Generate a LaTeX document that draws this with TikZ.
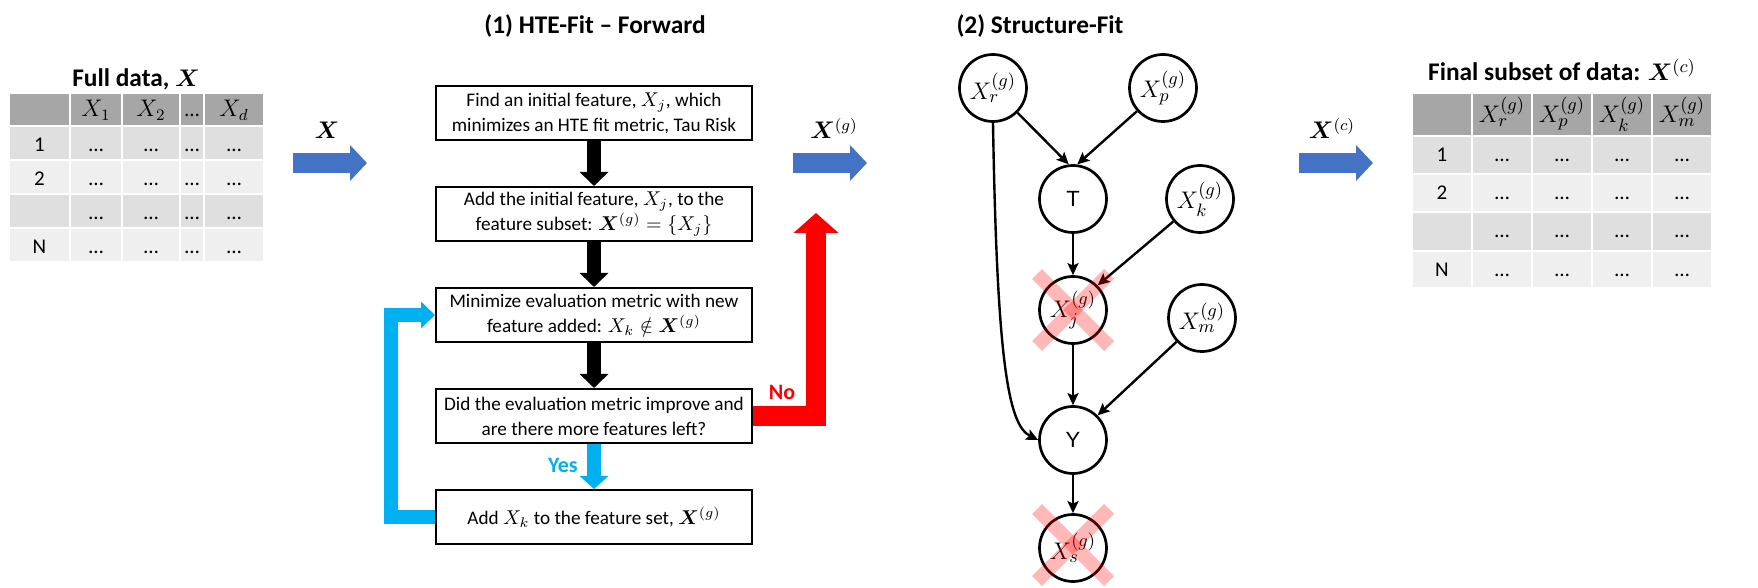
\documentclass[tikz,border=0pt]{standalone}
\usepackage{amsmath}
\usepackage{bm}
\usepackage{fontspec}
\setmainfont{Carlito}
\newfontfamily\arialf{Liberation Sans}
\usetikzlibrary{arrows.meta}
\definecolor{hdr}{HTML}{A6A6A6}
\definecolor{rowa}{HTML}{DFDFDF}
\definecolor{rowb}{HTML}{EFEFEF}
\definecolor{bluearrow}{HTML}{4472C4}
\definecolor{cyanarrow}{HTML}{00B0F0}
\definecolor{redarrow}{HTML}{FF0000}
\begin{document}
\begin{tikzpicture}[x=0.5pt,y=-0.5pt,
  titletext/.style={anchor=base,inner sep=0pt,font=\bfseries\fontsize{12.7pt}{15pt}\selectfont},
  tcell/.style={anchor=base,inner sep=0pt,font=\fontsize{10.5pt}{12pt}\selectfont},
  hcell/.style={anchor=base,inner sep=0pt,font=\fontsize{12pt}{14pt}\selectfont},
  flowbox/.style={draw,line width=1pt,minimum width=158pt,minimum height=27pt,inner sep=0pt,align=center,font=\fontsize{9.6pt}{12.5pt}\selectfont},
  fatblack/.style={line width=7pt,-{Triangle[width=14pt,length=7pt]}},
  fatcyan/.style={draw=cyanarrow,line width=7pt,line join=miter,-{Triangle[width=13pt,length=7pt]}},
  fatred/.style={draw=redarrow,line width=10pt,line join=miter,-{Triangle[width=22pt,length=10pt]}},
  fatblue/.style={draw=bluearrow,line width=10pt,-{Triangle[width=17.5pt,length=8.5pt]}},
  arrowlabel/.style={anchor=base,inner sep=0pt,font=\fontsize{12pt}{14pt}\selectfont},
  gnode/.style={circle,draw,line width=1.35pt,minimum size=33.5pt,inner sep=0pt,font=\fontsize{12.5pt}{14pt}\selectfont},
  gedge/.style={line width=1.2pt,-{Stealth[length=6pt,width=5.5pt,inset=1.2pt]}},
  xcross/.style={draw=red,line width=7pt,opacity=0.28}]
\useasboundingbox (0,0) rectangle (1758,588);

% ---------- left table ----------
\node[titletext] (tleft) at (136,87) {Full data, $\bm{X}$};
\foreach \rc/\ya/\yb in {hdr/93/126,rowa/126/160,rowb/160/194,rowa/194/228,rowb/228/262}{
  \foreach \xa/\xb in {9/70,70/122,122/180,180/204,204/264}{
    \fill[\rc] (\xa+1,\ya+1) rectangle (\xb-1,\yb-1);
  }
}
\node[hcell] (Lh1) at (96,117) {$X_1$};
\node[hcell] (Lh2) at (151,117) {$X_2$};
\node[tcell] (Lh3) at (192,117) {…};
\node[hcell] (Lh4) at (234,117) {$X_d$};
\node[tcell] (Lr1) at (39.5,152) {1};
\node[tcell] (Lr2) at (39.5,186) {2};
\node[tcell] (Lr4) at (39.5,254) {N};
\foreach \i/\yy in {1/152,2/186,3/220,4/254}{
  \foreach \j/\xx in {1/96,2/151,3/192,4/234}{
    \node[tcell] (L\i\j) at (\xx,\yy) {…};
  }
}

% ---------- arrow 1 ----------
\coordinate (a1s) at (293,163);
\coordinate (a1e) at (367,163);
\draw[fatblue] (a1s) -- (a1e);
\node[arrowlabel] (a1l) at (327,139) {$\bm{X}$};

% ---------- HTE-Fit flowchart ----------
\node[titletext] (tmid) at (595,34) {(1) HTE-Fit -- Forward};
\node[flowbox] (b1) at (594,113) {Find an initial feature, $X_j$, which\\minimizes an HTE fit metric, Tau Risk};
\node[flowbox] (b2) at (594,214) {Add the initial feature, $X_j$, to the\\feature subset: $\bm{X}^{(g)}=\{X_j\}$};
\node[flowbox] (b3) at (594,315) {Minimize evaluation metric with new\\feature added: $X_k\notin\bm{X}^{(g)}$};
\node[flowbox] (b4) at (594,416) {Did the evaluation metric improve and\\are there more features left?};
\node[flowbox] (b5) at (594,517) {Add $X_k$ to the feature set, $\bm{X}^{(g)}$};
\draw[fatblack] (b1.south) -- (b2.north);
\draw[fatblack] (b2.south) -- (b3.north);
\draw[fatblack] (b3.south) -- (b4.north);
\draw[fatcyan,-{Triangle[width=14pt,length=6.5pt]}] (b4.south) -- (b5.north);
\draw[fatcyan] (b5.west) -- (391,517) -- (391,315) -- (b3.west);
\coordinate (noend) at (816,213);
\draw[fatred] (b4.east) -- (816,416) -- (noend);
\node[anchor=base,inner sep=0pt,text=redarrow,font=\bfseries\fontsize{11pt}{13pt}\selectfont] (nolab) at (782,400) {No};
\node[anchor=base,inner sep=0pt,text=cyanarrow,font=\bfseries\fontsize{11pt}{13pt}\selectfont] (yeslab) at (563,473) {Yes};

% ---------- arrow 2 ----------
\coordinate (a2s) at (793,163);
\coordinate (a2e) at (867,163);
\draw[fatblue] (a2s) -- (a2e);
\node[arrowlabel] (a2l) at (834,139) {$\bm{X}^{(g)}$};

% ---------- Structure-Fit graph ----------
\node[titletext] (tstruct) at (1040,34) {(2) Structure-Fit};
\node[gnode] (Xr) at (993,88) {$X_r^{(g)}$};
\node[gnode] (Xp) at (1163,88) {$X_p^{(g)}$};
\node[gnode,font=\arialf\fontsize{11pt}{13pt}\selectfont] (T) at (1073,199) {T};
\node[gnode] (Xk) at (1200,199) {$X_k^{(g)}$};
\node[gnode] (Xj) at (1073,310) {$X_j^{(g)}$};
\node[gnode] (Xm) at (1202,318) {$X_m^{(g)}$};
\node[gnode,font=\arialf\fontsize{11pt}{13pt}\selectfont] (Y) at (1073,440) {Y};
\node[gnode] (Xs) at (1073,548) {$X_s^{(g)}$};
\draw[gedge] (Xr) -- (T.97);
\draw[gedge] (Xp) -- (T.83);
\draw[gedge] (T) -- (Xj);
\draw[gedge] (Xk) -- (Xj.45);
\draw[gedge] (Xj) -- (Y);
\draw[gedge] (Xm) -- (Y.45);
\draw[gedge] (Y) -- (Xs);
\draw[gedge] (Xr.south) .. controls (997,360) and (1008,425) .. (Y.west);
\draw[xcross] (Xj.center) ++(-36,-36) -- ++(72,72);
\draw[xcross] (Xj.center) ++(36,-36) -- ++(-72,72);
\draw[xcross] (Xs.center) ++(-36,-39) -- ++(72,72);
\draw[xcross] (Xs.center) ++(36,-39) -- ++(-72,72);

% ---------- arrow 3 ----------
\coordinate (a3s) at (1299,163);
\coordinate (a3e) at (1373,163);
\draw[fatblue] (a3s) -- (a3e);
\node[arrowlabel] (a3l) at (1332,139) {$\bm{X}^{(c)}$};

% ---------- right table ----------
\node[titletext] (tright) at (1562,81) {Final subset of data: $\bm{X}^{(c)}$};
\foreach \rc/\ya/\yb in {hdr/93/136,rowa/136/174,rowb/174/212,rowa/212/251,rowb/251/288}{
  \foreach \xa/\xb in {1412/1472,1472/1532,1532/1592,1592/1652,1652/1712}{
    \fill[\rc] (\xa+1,\ya+1) rectangle (\xb-1,\yb-1);
  }
}
\node[hcell,font=\fontsize{12.5pt}{14pt}\selectfont] (Rh1) at (1502,123) {$X_r^{(g)}$};
\node[hcell,font=\fontsize{12.5pt}{14pt}\selectfont] (Rh2) at (1562,123) {$X_p^{(g)}$};
\node[hcell,font=\fontsize{12.5pt}{14pt}\selectfont] (Rh3) at (1622,123) {$X_k^{(g)}$};
\node[hcell,font=\fontsize{12.5pt}{14pt}\selectfont] (Rh4) at (1682,123) {$X_m^{(g)}$};
\node[tcell] (Rr1) at (1442,162) {1};
\node[tcell] (Rr2) at (1442,200) {2};
\node[tcell] (Rr4) at (1442,277) {N};
\foreach \i/\yy in {1/162,2/200,3/238,4/277}{
  \foreach \j/\xx in {1/1502,2/1562,3/1622,4/1682}{
    \node[tcell] (R\i\j) at (\xx,\yy) {…};
  }
}
\end{tikzpicture}
\end{document}
